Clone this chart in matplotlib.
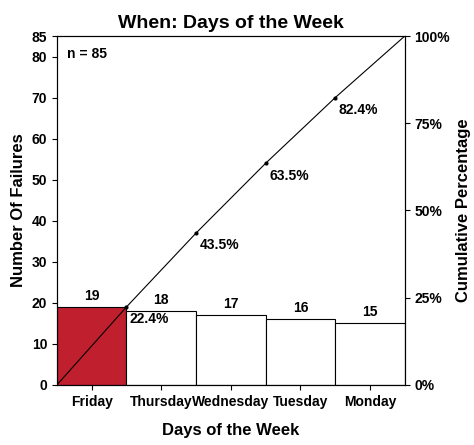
import matplotlib
matplotlib.use("Agg")
import matplotlib.pyplot as plt
import numpy as np

days = ["Friday", "Thursday", "Wednesday", "Tuesday", "Monday"]
failures = [19, 18, 17, 16, 15]
total = sum(failures)
cum_pct = list(np.cumsum(failures) / total * 100)

plt.rcParams['font.family'] = ['Liberation Sans', 'DejaVu Sans']
plt.rcParams['font.weight'] = 'bold'
fig = plt.figure(figsize=(4.74, 4.45), dpi=100)
ax = fig.add_axes([0.12, 0.135, 0.734, 0.784])
x = np.arange(len(days))
colors = ['#c0202e'] + ['white'] * (len(days) - 1)
ax.bar(x + 0.5, failures, width=1.0, color=colors, edgecolor='black', linewidth=0.8)
for xi, v in zip(x, failures):
    ax.text(xi + 0.5, v + 1, str(v), ha='center', va='bottom', fontsize=10, fontweight='bold')
ax.set_xlim(0, len(days))
ax.set_ylim(0, 85)
ax.set_yticks([0, 10, 20, 30, 40, 50, 60, 70, 80, 85])
ax.set_xticks(x + 0.5)
ax.set_xticklabels(days, fontsize=10, fontweight='bold')
ax.tick_params(labelsize=10)
ax.set_ylabel("Number Of Failures", fontsize=12, fontweight='bold')
ax.set_xlabel("Days of the Week", fontsize=12, fontweight='bold', labelpad=10)
ax.set_title("When: Days of the Week", fontsize=14, fontweight='bold')
ax.text(0.03, 0.97, f"n = {total}", transform=ax.transAxes, ha='left', va='top', fontsize=10, fontweight='bold')

ax2 = ax.twinx()
ax2.set_ylim(0, 100)
ax2.set_yticks([0, 25, 50, 75, 100])
ax2.set_yticklabels(["0%", "25%", "50%", "75%", "100%"], fontsize=10, fontweight='bold')
ax2.set_ylabel("Cumulative Percentage", fontsize=12, fontweight='bold')
lx = [0] + list(x + 1)
ly = [0] + cum_pct
ax2.plot(lx, ly, color='black', linewidth=0.8)
ax2.plot(lx[1:-1], ly[1:-1], 'o', color='black', markersize=2)
for xi, yi in zip(lx[1:-1], ly[1:-1]):
    ax2.text(xi + 0.05, yi - 1.5, f"{yi:.1f}%", ha='left', va='top', fontsize=10, fontweight='bold')
fig.savefig("out.png", dpi=100)
